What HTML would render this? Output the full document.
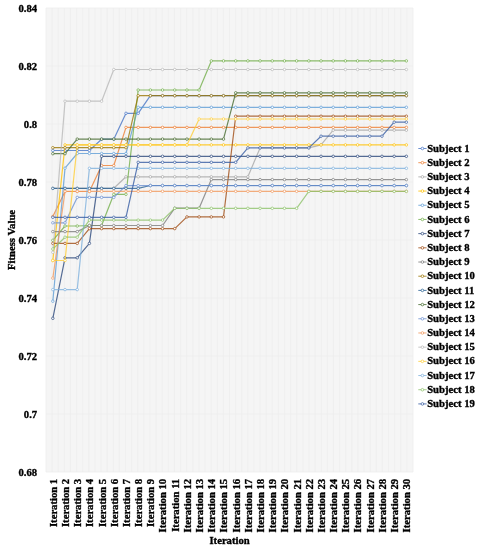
<!DOCTYPE html>
<html><head><meta charset="utf-8"><title>Fitness Value by Iteration</title>
<style>
html,body{margin:0;padding:0;background:#fff;}
svg{display:block;}
text{font-family:"Liberation Serif","Times New Roman",serif;font-weight:bold;font-size:10.67px;fill:#000;stroke:#000;stroke-width:0.33px;}
</style></head>
<body>
<svg width="482" height="550" viewBox="0 0 482 550">
<rect width="482" height="550" fill="#fff"/>
<rect x="46.0" y="8.0" width="367.0" height="464.0" fill="#f5f5f5"/>
<path d="M46.00 8.0V472.0M52.12 8.0V472.0M58.23 8.0V472.0M64.35 8.0V472.0M70.47 8.0V472.0M76.58 8.0V472.0M82.70 8.0V472.0M88.82 8.0V472.0M94.93 8.0V472.0M101.05 8.0V472.0M107.17 8.0V472.0M113.28 8.0V472.0M119.40 8.0V472.0M125.52 8.0V472.0M131.63 8.0V472.0M137.75 8.0V472.0M143.87 8.0V472.0M149.98 8.0V472.0M156.10 8.0V472.0M162.22 8.0V472.0M168.33 8.0V472.0M174.45 8.0V472.0M180.57 8.0V472.0M186.68 8.0V472.0M192.80 8.0V472.0M198.92 8.0V472.0M205.03 8.0V472.0M211.15 8.0V472.0M217.27 8.0V472.0M223.38 8.0V472.0M229.50 8.0V472.0M235.62 8.0V472.0M241.73 8.0V472.0M247.85 8.0V472.0M253.97 8.0V472.0M260.08 8.0V472.0M266.20 8.0V472.0M272.32 8.0V472.0M278.43 8.0V472.0M284.55 8.0V472.0M290.67 8.0V472.0M296.78 8.0V472.0M302.90 8.0V472.0M309.02 8.0V472.0M315.13 8.0V472.0M321.25 8.0V472.0M327.37 8.0V472.0M333.48 8.0V472.0M339.60 8.0V472.0M345.72 8.0V472.0M351.83 8.0V472.0M357.95 8.0V472.0M364.07 8.0V472.0M370.18 8.0V472.0M376.30 8.0V472.0M382.42 8.0V472.0M388.53 8.0V472.0M394.65 8.0V472.0M400.77 8.0V472.0M406.88 8.0V472.0M413.00 8.0V472.0" stroke="#ededed" stroke-width="0.8" fill="none"/>
<path d="M46.0 8.00H413.0M46.0 66.00H413.0M46.0 124.00H413.0M46.0 182.00H413.0M46.0 240.00H413.0M46.0 298.00H413.0M46.0 356.00H413.0M46.0 414.00H413.0M46.0 472.00H413.0" stroke="#ededed" stroke-width="0.8" fill="none"/>
<g>
<polyline points="52.84,150.5 65.03,150.5 77.22,150.5 89.41,150.5 101.60,139.2 113.80,139.2 125.98,113.3 138.18,113.3 150.37,95.7 162.56,95.7 174.75,95.7 186.94,95.7 199.12,95.7 211.31,95.7 223.50,95.7 235.69,95.7 247.88,95.7 260.07,95.7 272.26,95.7 284.45,95.7 296.64,95.7 308.83,95.7 321.02,95.7 333.21,95.7 345.40,95.7 357.59,95.7 369.78,95.7 381.97,95.7 394.16,95.7 406.35,95.7" fill="none" stroke="#4472C4" stroke-width="1.2" stroke-opacity="0.78" stroke-linejoin="round"/>
<g fill="#fff" stroke="#4472C4" stroke-width="0.7"><circle cx="52.84" cy="150.5" r="1.25"/><circle cx="65.03" cy="150.5" r="1.25"/><circle cx="77.22" cy="150.5" r="1.25"/><circle cx="89.41" cy="150.5" r="1.25"/><circle cx="101.60" cy="139.2" r="1.25"/><circle cx="113.80" cy="139.2" r="1.25"/><circle cx="125.98" cy="113.3" r="1.25"/><circle cx="138.18" cy="113.3" r="1.25"/><circle cx="150.37" cy="95.7" r="1.25"/><circle cx="162.56" cy="95.7" r="1.25"/><circle cx="174.75" cy="95.7" r="1.25"/><circle cx="186.94" cy="95.7" r="1.25"/><circle cx="199.12" cy="95.7" r="1.25"/><circle cx="211.31" cy="95.7" r="1.25"/><circle cx="223.50" cy="95.7" r="1.25"/><circle cx="235.69" cy="95.7" r="1.25"/><circle cx="247.88" cy="95.7" r="1.25"/><circle cx="260.07" cy="95.7" r="1.25"/><circle cx="272.26" cy="95.7" r="1.25"/><circle cx="284.45" cy="95.7" r="1.25"/><circle cx="296.64" cy="95.7" r="1.25"/><circle cx="308.83" cy="95.7" r="1.25"/><circle cx="321.02" cy="95.7" r="1.25"/><circle cx="333.21" cy="95.7" r="1.25"/><circle cx="345.40" cy="95.7" r="1.25"/><circle cx="357.59" cy="95.7" r="1.25"/><circle cx="369.78" cy="95.7" r="1.25"/><circle cx="381.97" cy="95.7" r="1.25"/><circle cx="394.16" cy="95.7" r="1.25"/><circle cx="406.35" cy="95.7" r="1.25"/></g>
<polyline points="52.84,216.5 65.03,191.5 77.22,191.5 89.41,191.5 101.60,165.5 113.80,165.5 125.98,127.4 138.18,127.4 150.37,127.4 162.56,127.4 174.75,127.4 186.94,127.4 199.12,127.4 211.31,127.4 223.50,127.4 235.69,127.4 247.88,127.4 260.07,127.4 272.26,127.4 284.45,127.4 296.64,127.4 308.83,127.4 321.02,127.4 333.21,127.4 345.40,127.4 357.59,127.4 369.78,127.4 381.97,127.4 394.16,127.4 406.35,127.4" fill="none" stroke="#ED7D31" stroke-width="1.2" stroke-opacity="0.78" stroke-linejoin="round"/>
<g fill="#fff" stroke="#ED7D31" stroke-width="0.7"><circle cx="52.84" cy="216.5" r="1.25"/><circle cx="65.03" cy="191.5" r="1.25"/><circle cx="77.22" cy="191.5" r="1.25"/><circle cx="89.41" cy="191.5" r="1.25"/><circle cx="101.60" cy="165.5" r="1.25"/><circle cx="113.80" cy="165.5" r="1.25"/><circle cx="125.98" cy="127.4" r="1.25"/><circle cx="138.18" cy="127.4" r="1.25"/><circle cx="150.37" cy="127.4" r="1.25"/><circle cx="162.56" cy="127.4" r="1.25"/><circle cx="174.75" cy="127.4" r="1.25"/><circle cx="186.94" cy="127.4" r="1.25"/><circle cx="199.12" cy="127.4" r="1.25"/><circle cx="211.31" cy="127.4" r="1.25"/><circle cx="223.50" cy="127.4" r="1.25"/><circle cx="235.69" cy="127.4" r="1.25"/><circle cx="247.88" cy="127.4" r="1.25"/><circle cx="260.07" cy="127.4" r="1.25"/><circle cx="272.26" cy="127.4" r="1.25"/><circle cx="284.45" cy="127.4" r="1.25"/><circle cx="296.64" cy="127.4" r="1.25"/><circle cx="308.83" cy="127.4" r="1.25"/><circle cx="321.02" cy="127.4" r="1.25"/><circle cx="333.21" cy="127.4" r="1.25"/><circle cx="345.40" cy="127.4" r="1.25"/><circle cx="357.59" cy="127.4" r="1.25"/><circle cx="369.78" cy="127.4" r="1.25"/><circle cx="381.97" cy="127.4" r="1.25"/><circle cx="394.16" cy="127.4" r="1.25"/><circle cx="406.35" cy="127.4" r="1.25"/></g>
<polyline points="52.84,188.3 65.03,188.3 77.22,188.3 89.41,188.3 101.60,188.3 113.80,188.3 125.98,176.8 138.18,176.8 150.37,176.8 162.56,176.8 174.75,176.8 186.94,176.8 199.12,176.8 211.31,176.8 223.50,176.8 235.69,176.8 247.88,176.8 260.07,147.9 272.26,147.9 284.45,147.9 296.64,147.9 308.83,147.9 321.02,144.8 333.21,130.2 345.40,130.2 357.59,130.2 369.78,130.2 381.97,130.2 394.16,130.2 406.35,130.2" fill="none" stroke="#A5A5A5" stroke-width="1.2" stroke-opacity="0.78" stroke-linejoin="round"/>
<g fill="#fff" stroke="#A5A5A5" stroke-width="0.7"><circle cx="52.84" cy="188.3" r="1.25"/><circle cx="65.03" cy="188.3" r="1.25"/><circle cx="77.22" cy="188.3" r="1.25"/><circle cx="89.41" cy="188.3" r="1.25"/><circle cx="101.60" cy="188.3" r="1.25"/><circle cx="113.80" cy="188.3" r="1.25"/><circle cx="125.98" cy="176.8" r="1.25"/><circle cx="138.18" cy="176.8" r="1.25"/><circle cx="150.37" cy="176.8" r="1.25"/><circle cx="162.56" cy="176.8" r="1.25"/><circle cx="174.75" cy="176.8" r="1.25"/><circle cx="186.94" cy="176.8" r="1.25"/><circle cx="199.12" cy="176.8" r="1.25"/><circle cx="211.31" cy="176.8" r="1.25"/><circle cx="223.50" cy="176.8" r="1.25"/><circle cx="235.69" cy="176.8" r="1.25"/><circle cx="247.88" cy="176.8" r="1.25"/><circle cx="260.07" cy="147.9" r="1.25"/><circle cx="272.26" cy="147.9" r="1.25"/><circle cx="284.45" cy="147.9" r="1.25"/><circle cx="296.64" cy="147.9" r="1.25"/><circle cx="308.83" cy="147.9" r="1.25"/><circle cx="321.02" cy="144.8" r="1.25"/><circle cx="333.21" cy="130.2" r="1.25"/><circle cx="345.40" cy="130.2" r="1.25"/><circle cx="357.59" cy="130.2" r="1.25"/><circle cx="369.78" cy="130.2" r="1.25"/><circle cx="381.97" cy="130.2" r="1.25"/><circle cx="394.16" cy="130.2" r="1.25"/><circle cx="406.35" cy="130.2" r="1.25"/></g>
<polyline points="52.84,260.5 65.03,144.9 77.22,144.9 89.41,144.9 101.60,144.9 113.80,144.9 125.98,144.9 138.18,144.9 150.37,144.9 162.56,144.9 174.75,144.9 186.94,144.9 199.12,144.9 211.31,144.9 223.50,144.9 235.69,144.9 247.88,144.9 260.07,144.9 272.26,144.9 284.45,144.9 296.64,144.9 308.83,144.9 321.02,144.9 333.21,144.9 345.40,144.9 357.59,144.9 369.78,144.9 381.97,144.9 394.16,144.9 406.35,144.9" fill="none" stroke="#FFC000" stroke-width="1.2" stroke-opacity="0.78" stroke-linejoin="round"/>
<g fill="#fff" stroke="#FFC000" stroke-width="0.7"><circle cx="52.84" cy="260.5" r="1.25"/><circle cx="65.03" cy="144.9" r="1.25"/><circle cx="77.22" cy="144.9" r="1.25"/><circle cx="89.41" cy="144.9" r="1.25"/><circle cx="101.60" cy="144.9" r="1.25"/><circle cx="113.80" cy="144.9" r="1.25"/><circle cx="125.98" cy="144.9" r="1.25"/><circle cx="138.18" cy="144.9" r="1.25"/><circle cx="150.37" cy="144.9" r="1.25"/><circle cx="162.56" cy="144.9" r="1.25"/><circle cx="174.75" cy="144.9" r="1.25"/><circle cx="186.94" cy="144.9" r="1.25"/><circle cx="199.12" cy="144.9" r="1.25"/><circle cx="211.31" cy="144.9" r="1.25"/><circle cx="223.50" cy="144.9" r="1.25"/><circle cx="235.69" cy="144.9" r="1.25"/><circle cx="247.88" cy="144.9" r="1.25"/><circle cx="260.07" cy="144.9" r="1.25"/><circle cx="272.26" cy="144.9" r="1.25"/><circle cx="284.45" cy="144.9" r="1.25"/><circle cx="296.64" cy="144.9" r="1.25"/><circle cx="308.83" cy="144.9" r="1.25"/><circle cx="321.02" cy="144.9" r="1.25"/><circle cx="333.21" cy="144.9" r="1.25"/><circle cx="345.40" cy="144.9" r="1.25"/><circle cx="357.59" cy="144.9" r="1.25"/><circle cx="369.78" cy="144.9" r="1.25"/><circle cx="381.97" cy="144.9" r="1.25"/><circle cx="394.16" cy="144.9" r="1.25"/><circle cx="406.35" cy="144.9" r="1.25"/></g>
<polyline points="52.84,301.2 65.03,168.2 77.22,153.5 89.41,153.5 101.60,153.5 113.80,153.5 125.98,153.5 138.18,107.3 150.37,107.3 162.56,107.3 174.75,107.3 186.94,107.3 199.12,107.3 211.31,107.3 223.50,107.3 235.69,107.3 247.88,107.3 260.07,107.3 272.26,107.3 284.45,107.3 296.64,107.3 308.83,107.3 321.02,107.3 333.21,107.3 345.40,107.3 357.59,107.3 369.78,107.3 381.97,107.3 394.16,107.3 406.35,107.3" fill="none" stroke="#5B9BD5" stroke-width="1.2" stroke-opacity="0.78" stroke-linejoin="round"/>
<g fill="#fff" stroke="#5B9BD5" stroke-width="0.7"><circle cx="52.84" cy="301.2" r="1.25"/><circle cx="65.03" cy="168.2" r="1.25"/><circle cx="77.22" cy="153.5" r="1.25"/><circle cx="89.41" cy="153.5" r="1.25"/><circle cx="101.60" cy="153.5" r="1.25"/><circle cx="113.80" cy="153.5" r="1.25"/><circle cx="125.98" cy="153.5" r="1.25"/><circle cx="138.18" cy="107.3" r="1.25"/><circle cx="150.37" cy="107.3" r="1.25"/><circle cx="162.56" cy="107.3" r="1.25"/><circle cx="174.75" cy="107.3" r="1.25"/><circle cx="186.94" cy="107.3" r="1.25"/><circle cx="199.12" cy="107.3" r="1.25"/><circle cx="211.31" cy="107.3" r="1.25"/><circle cx="223.50" cy="107.3" r="1.25"/><circle cx="235.69" cy="107.3" r="1.25"/><circle cx="247.88" cy="107.3" r="1.25"/><circle cx="260.07" cy="107.3" r="1.25"/><circle cx="272.26" cy="107.3" r="1.25"/><circle cx="284.45" cy="107.3" r="1.25"/><circle cx="296.64" cy="107.3" r="1.25"/><circle cx="308.83" cy="107.3" r="1.25"/><circle cx="321.02" cy="107.3" r="1.25"/><circle cx="333.21" cy="107.3" r="1.25"/><circle cx="345.40" cy="107.3" r="1.25"/><circle cx="357.59" cy="107.3" r="1.25"/><circle cx="369.78" cy="107.3" r="1.25"/><circle cx="381.97" cy="107.3" r="1.25"/><circle cx="394.16" cy="107.3" r="1.25"/><circle cx="406.35" cy="107.3" r="1.25"/></g>
<polyline points="52.84,240.3 65.03,226.0 77.22,226.0 89.41,225.5 101.60,225.5 113.80,194.3 125.98,194.3 138.18,90.0 150.37,90.0 162.56,90.0 174.75,90.0 186.94,90.0 199.12,90.0 211.31,60.9 223.50,60.9 235.69,60.9 247.88,60.9 260.07,60.9 272.26,60.9 284.45,60.9 296.64,60.9 308.83,60.9 321.02,60.9 333.21,60.9 345.40,60.9 357.59,60.9 369.78,60.9 381.97,60.9 394.16,60.9 406.35,60.9" fill="none" stroke="#70AD47" stroke-width="1.2" stroke-opacity="0.78" stroke-linejoin="round"/>
<g fill="#fff" stroke="#70AD47" stroke-width="0.7"><circle cx="52.84" cy="240.3" r="1.25"/><circle cx="65.03" cy="226.0" r="1.25"/><circle cx="77.22" cy="226.0" r="1.25"/><circle cx="89.41" cy="225.5" r="1.25"/><circle cx="101.60" cy="225.5" r="1.25"/><circle cx="113.80" cy="194.3" r="1.25"/><circle cx="125.98" cy="194.3" r="1.25"/><circle cx="138.18" cy="90.0" r="1.25"/><circle cx="150.37" cy="90.0" r="1.25"/><circle cx="162.56" cy="90.0" r="1.25"/><circle cx="174.75" cy="90.0" r="1.25"/><circle cx="186.94" cy="90.0" r="1.25"/><circle cx="199.12" cy="90.0" r="1.25"/><circle cx="211.31" cy="60.9" r="1.25"/><circle cx="223.50" cy="60.9" r="1.25"/><circle cx="235.69" cy="60.9" r="1.25"/><circle cx="247.88" cy="60.9" r="1.25"/><circle cx="260.07" cy="60.9" r="1.25"/><circle cx="272.26" cy="60.9" r="1.25"/><circle cx="284.45" cy="60.9" r="1.25"/><circle cx="296.64" cy="60.9" r="1.25"/><circle cx="308.83" cy="60.9" r="1.25"/><circle cx="321.02" cy="60.9" r="1.25"/><circle cx="333.21" cy="60.9" r="1.25"/><circle cx="345.40" cy="60.9" r="1.25"/><circle cx="357.59" cy="60.9" r="1.25"/><circle cx="369.78" cy="60.9" r="1.25"/><circle cx="381.97" cy="60.9" r="1.25"/><circle cx="394.16" cy="60.9" r="1.25"/><circle cx="406.35" cy="60.9" r="1.25"/></g>
<polyline points="52.84,318.3 65.03,257.8 77.22,257.8 89.41,243.4 101.60,156.3 113.80,156.3 125.98,156.3 138.18,156.3 150.37,156.3 162.56,156.3 174.75,156.3 186.94,156.3 199.12,156.3 211.31,156.3 223.50,156.3 235.69,156.3 247.88,156.3 260.07,156.3 272.26,156.3 284.45,156.3 296.64,156.3 308.83,156.3 321.02,156.3 333.21,156.3 345.40,156.3 357.59,156.3 369.78,156.3 381.97,156.3 394.16,156.3 406.35,156.3" fill="none" stroke="#264478" stroke-width="1.2" stroke-opacity="0.78" stroke-linejoin="round"/>
<g fill="#fff" stroke="#264478" stroke-width="0.7"><circle cx="52.84" cy="318.3" r="1.25"/><circle cx="65.03" cy="257.8" r="1.25"/><circle cx="77.22" cy="257.8" r="1.25"/><circle cx="89.41" cy="243.4" r="1.25"/><circle cx="101.60" cy="156.3" r="1.25"/><circle cx="113.80" cy="156.3" r="1.25"/><circle cx="125.98" cy="156.3" r="1.25"/><circle cx="138.18" cy="156.3" r="1.25"/><circle cx="150.37" cy="156.3" r="1.25"/><circle cx="162.56" cy="156.3" r="1.25"/><circle cx="174.75" cy="156.3" r="1.25"/><circle cx="186.94" cy="156.3" r="1.25"/><circle cx="199.12" cy="156.3" r="1.25"/><circle cx="211.31" cy="156.3" r="1.25"/><circle cx="223.50" cy="156.3" r="1.25"/><circle cx="235.69" cy="156.3" r="1.25"/><circle cx="247.88" cy="156.3" r="1.25"/><circle cx="260.07" cy="156.3" r="1.25"/><circle cx="272.26" cy="156.3" r="1.25"/><circle cx="284.45" cy="156.3" r="1.25"/><circle cx="296.64" cy="156.3" r="1.25"/><circle cx="308.83" cy="156.3" r="1.25"/><circle cx="321.02" cy="156.3" r="1.25"/><circle cx="333.21" cy="156.3" r="1.25"/><circle cx="345.40" cy="156.3" r="1.25"/><circle cx="357.59" cy="156.3" r="1.25"/><circle cx="369.78" cy="156.3" r="1.25"/><circle cx="381.97" cy="156.3" r="1.25"/><circle cx="394.16" cy="156.3" r="1.25"/><circle cx="406.35" cy="156.3" r="1.25"/></g>
<polyline points="52.84,243.4 65.03,243.4 77.22,243.4 89.41,228.6 101.60,228.6 113.80,228.6 125.98,228.6 138.18,228.6 150.37,228.6 162.56,228.6 174.75,228.6 186.94,216.9 199.12,216.9 211.31,216.9 223.50,216.9 235.69,116.2 247.88,116.2 260.07,116.2 272.26,116.2 284.45,116.2 296.64,116.2 308.83,116.2 321.02,116.2 333.21,116.2 345.40,116.2 357.59,116.2 369.78,116.2 381.97,116.2 394.16,116.2 406.35,116.2" fill="none" stroke="#9E480E" stroke-width="1.2" stroke-opacity="0.78" stroke-linejoin="round"/>
<g fill="#fff" stroke="#9E480E" stroke-width="0.7"><circle cx="52.84" cy="243.4" r="1.25"/><circle cx="65.03" cy="243.4" r="1.25"/><circle cx="77.22" cy="243.4" r="1.25"/><circle cx="89.41" cy="228.6" r="1.25"/><circle cx="101.60" cy="228.6" r="1.25"/><circle cx="113.80" cy="228.6" r="1.25"/><circle cx="125.98" cy="228.6" r="1.25"/><circle cx="138.18" cy="228.6" r="1.25"/><circle cx="150.37" cy="228.6" r="1.25"/><circle cx="162.56" cy="228.6" r="1.25"/><circle cx="174.75" cy="228.6" r="1.25"/><circle cx="186.94" cy="216.9" r="1.25"/><circle cx="199.12" cy="216.9" r="1.25"/><circle cx="211.31" cy="216.9" r="1.25"/><circle cx="223.50" cy="216.9" r="1.25"/><circle cx="235.69" cy="116.2" r="1.25"/><circle cx="247.88" cy="116.2" r="1.25"/><circle cx="260.07" cy="116.2" r="1.25"/><circle cx="272.26" cy="116.2" r="1.25"/><circle cx="284.45" cy="116.2" r="1.25"/><circle cx="296.64" cy="116.2" r="1.25"/><circle cx="308.83" cy="116.2" r="1.25"/><circle cx="321.02" cy="116.2" r="1.25"/><circle cx="333.21" cy="116.2" r="1.25"/><circle cx="345.40" cy="116.2" r="1.25"/><circle cx="357.59" cy="116.2" r="1.25"/><circle cx="369.78" cy="116.2" r="1.25"/><circle cx="381.97" cy="116.2" r="1.25"/><circle cx="394.16" cy="116.2" r="1.25"/><circle cx="406.35" cy="116.2" r="1.25"/></g>
<polyline points="52.84,231.6 65.03,231.6 77.22,231.6 89.41,225.5 101.60,225.5 113.80,225.5 125.98,225.5 138.18,225.5 150.37,225.5 162.56,225.5 174.75,208.2 186.94,208.2 199.12,208.2 211.31,179.6 223.50,179.6 235.69,179.6 247.88,179.6 260.07,179.6 272.26,179.6 284.45,179.6 296.64,179.6 308.83,179.6 321.02,179.6 333.21,179.6 345.40,179.6 357.59,179.6 369.78,179.6 381.97,179.6 394.16,179.6 406.35,179.6" fill="none" stroke="#7a7a7a" stroke-width="1.2" stroke-opacity="0.78" stroke-linejoin="round"/>
<g fill="#fff" stroke="#7a7a7a" stroke-width="0.7"><circle cx="52.84" cy="231.6" r="1.25"/><circle cx="65.03" cy="231.6" r="1.25"/><circle cx="77.22" cy="231.6" r="1.25"/><circle cx="89.41" cy="225.5" r="1.25"/><circle cx="101.60" cy="225.5" r="1.25"/><circle cx="113.80" cy="225.5" r="1.25"/><circle cx="125.98" cy="225.5" r="1.25"/><circle cx="138.18" cy="225.5" r="1.25"/><circle cx="150.37" cy="225.5" r="1.25"/><circle cx="162.56" cy="225.5" r="1.25"/><circle cx="174.75" cy="208.2" r="1.25"/><circle cx="186.94" cy="208.2" r="1.25"/><circle cx="199.12" cy="208.2" r="1.25"/><circle cx="211.31" cy="179.6" r="1.25"/><circle cx="223.50" cy="179.6" r="1.25"/><circle cx="235.69" cy="179.6" r="1.25"/><circle cx="247.88" cy="179.6" r="1.25"/><circle cx="260.07" cy="179.6" r="1.25"/><circle cx="272.26" cy="179.6" r="1.25"/><circle cx="284.45" cy="179.6" r="1.25"/><circle cx="296.64" cy="179.6" r="1.25"/><circle cx="308.83" cy="179.6" r="1.25"/><circle cx="321.02" cy="179.6" r="1.25"/><circle cx="333.21" cy="179.6" r="1.25"/><circle cx="345.40" cy="179.6" r="1.25"/><circle cx="357.59" cy="179.6" r="1.25"/><circle cx="369.78" cy="179.6" r="1.25"/><circle cx="381.97" cy="179.6" r="1.25"/><circle cx="394.16" cy="179.6" r="1.25"/><circle cx="406.35" cy="179.6" r="1.25"/></g>
<polyline points="52.84,147.7 65.03,147.7 77.22,147.7 89.41,147.7 101.60,147.7 113.80,147.7 125.98,147.7 138.18,95.7 150.37,95.7 162.56,95.7 174.75,95.7 186.94,95.7 199.12,95.7 211.31,95.7 223.50,95.7 235.69,95.7 247.88,95.7 260.07,95.7 272.26,95.7 284.45,95.7 296.64,95.7 308.83,95.7 321.02,95.7 333.21,95.7 345.40,95.7 357.59,95.7 369.78,95.7 381.97,95.7 394.16,95.7 406.35,95.7" fill="none" stroke="#997300" stroke-width="1.2" stroke-opacity="0.78" stroke-linejoin="round"/>
<g fill="#fff" stroke="#997300" stroke-width="0.7"><circle cx="52.84" cy="147.7" r="1.25"/><circle cx="65.03" cy="147.7" r="1.25"/><circle cx="77.22" cy="147.7" r="1.25"/><circle cx="89.41" cy="147.7" r="1.25"/><circle cx="101.60" cy="147.7" r="1.25"/><circle cx="113.80" cy="147.7" r="1.25"/><circle cx="125.98" cy="147.7" r="1.25"/><circle cx="138.18" cy="95.7" r="1.25"/><circle cx="150.37" cy="95.7" r="1.25"/><circle cx="162.56" cy="95.7" r="1.25"/><circle cx="174.75" cy="95.7" r="1.25"/><circle cx="186.94" cy="95.7" r="1.25"/><circle cx="199.12" cy="95.7" r="1.25"/><circle cx="211.31" cy="95.7" r="1.25"/><circle cx="223.50" cy="95.7" r="1.25"/><circle cx="235.69" cy="95.7" r="1.25"/><circle cx="247.88" cy="95.7" r="1.25"/><circle cx="260.07" cy="95.7" r="1.25"/><circle cx="272.26" cy="95.7" r="1.25"/><circle cx="284.45" cy="95.7" r="1.25"/><circle cx="296.64" cy="95.7" r="1.25"/><circle cx="308.83" cy="95.7" r="1.25"/><circle cx="321.02" cy="95.7" r="1.25"/><circle cx="333.21" cy="95.7" r="1.25"/><circle cx="345.40" cy="95.7" r="1.25"/><circle cx="357.59" cy="95.7" r="1.25"/><circle cx="369.78" cy="95.7" r="1.25"/><circle cx="381.97" cy="95.7" r="1.25"/><circle cx="394.16" cy="95.7" r="1.25"/><circle cx="406.35" cy="95.7" r="1.25"/></g>
<polyline points="52.84,188.4 65.03,188.4 77.22,188.4 89.41,188.4 101.60,188.4 113.80,188.4 125.98,188.4 138.18,188.4 150.37,185.5 162.56,185.5 174.75,185.5 186.94,185.5 199.12,185.5 211.31,185.5 223.50,185.5 235.69,185.5 247.88,185.5 260.07,185.5 272.26,185.5 284.45,185.5 296.64,185.5 308.83,185.5 321.02,185.5 333.21,185.5 345.40,185.5 357.59,185.5 369.78,185.5 381.97,185.5 394.16,185.5 406.35,185.5" fill="none" stroke="#255E91" stroke-width="1.2" stroke-opacity="0.78" stroke-linejoin="round"/>
<g fill="#fff" stroke="#255E91" stroke-width="0.7"><circle cx="52.84" cy="188.4" r="1.25"/><circle cx="65.03" cy="188.4" r="1.25"/><circle cx="77.22" cy="188.4" r="1.25"/><circle cx="89.41" cy="188.4" r="1.25"/><circle cx="101.60" cy="188.4" r="1.25"/><circle cx="113.80" cy="188.4" r="1.25"/><circle cx="125.98" cy="188.4" r="1.25"/><circle cx="138.18" cy="188.4" r="1.25"/><circle cx="150.37" cy="185.5" r="1.25"/><circle cx="162.56" cy="185.5" r="1.25"/><circle cx="174.75" cy="185.5" r="1.25"/><circle cx="186.94" cy="185.5" r="1.25"/><circle cx="199.12" cy="185.5" r="1.25"/><circle cx="211.31" cy="185.5" r="1.25"/><circle cx="223.50" cy="185.5" r="1.25"/><circle cx="235.69" cy="185.5" r="1.25"/><circle cx="247.88" cy="185.5" r="1.25"/><circle cx="260.07" cy="185.5" r="1.25"/><circle cx="272.26" cy="185.5" r="1.25"/><circle cx="284.45" cy="185.5" r="1.25"/><circle cx="296.64" cy="185.5" r="1.25"/><circle cx="308.83" cy="185.5" r="1.25"/><circle cx="321.02" cy="185.5" r="1.25"/><circle cx="333.21" cy="185.5" r="1.25"/><circle cx="345.40" cy="185.5" r="1.25"/><circle cx="357.59" cy="185.5" r="1.25"/><circle cx="369.78" cy="185.5" r="1.25"/><circle cx="381.97" cy="185.5" r="1.25"/><circle cx="394.16" cy="185.5" r="1.25"/><circle cx="406.35" cy="185.5" r="1.25"/></g>
<polyline points="52.84,153.7 65.03,153.7 77.22,139.1 89.41,139.1 101.60,139.1 113.80,139.1 125.98,139.1 138.18,139.1 150.37,139.1 162.56,139.1 174.75,139.1 186.94,139.1 199.12,139.1 211.31,139.1 223.50,139.1 235.69,92.8 247.88,92.8 260.07,92.8 272.26,92.8 284.45,92.8 296.64,92.8 308.83,92.8 321.02,92.8 333.21,92.8 345.40,92.8 357.59,92.8 369.78,92.8 381.97,92.8 394.16,92.8 406.35,92.8" fill="none" stroke="#43682B" stroke-width="1.2" stroke-opacity="0.78" stroke-linejoin="round"/>
<g fill="#fff" stroke="#43682B" stroke-width="0.7"><circle cx="52.84" cy="153.7" r="1.25"/><circle cx="65.03" cy="153.7" r="1.25"/><circle cx="77.22" cy="139.1" r="1.25"/><circle cx="89.41" cy="139.1" r="1.25"/><circle cx="101.60" cy="139.1" r="1.25"/><circle cx="113.80" cy="139.1" r="1.25"/><circle cx="125.98" cy="139.1" r="1.25"/><circle cx="138.18" cy="139.1" r="1.25"/><circle cx="150.37" cy="139.1" r="1.25"/><circle cx="162.56" cy="139.1" r="1.25"/><circle cx="174.75" cy="139.1" r="1.25"/><circle cx="186.94" cy="139.1" r="1.25"/><circle cx="199.12" cy="139.1" r="1.25"/><circle cx="211.31" cy="139.1" r="1.25"/><circle cx="223.50" cy="139.1" r="1.25"/><circle cx="235.69" cy="92.8" r="1.25"/><circle cx="247.88" cy="92.8" r="1.25"/><circle cx="260.07" cy="92.8" r="1.25"/><circle cx="272.26" cy="92.8" r="1.25"/><circle cx="284.45" cy="92.8" r="1.25"/><circle cx="296.64" cy="92.8" r="1.25"/><circle cx="308.83" cy="92.8" r="1.25"/><circle cx="321.02" cy="92.8" r="1.25"/><circle cx="333.21" cy="92.8" r="1.25"/><circle cx="345.40" cy="92.8" r="1.25"/><circle cx="357.59" cy="92.8" r="1.25"/><circle cx="369.78" cy="92.8" r="1.25"/><circle cx="381.97" cy="92.8" r="1.25"/><circle cx="394.16" cy="92.8" r="1.25"/><circle cx="406.35" cy="92.8" r="1.25"/></g>
<polyline points="52.84,222.8 65.03,222.8 77.22,197.4 89.41,197.4 101.60,197.4 113.80,197.4 125.98,185.6 138.18,185.6 150.37,185.6 162.56,185.6 174.75,185.6 186.94,185.6 199.12,185.6 211.31,185.6 223.50,185.6 235.69,185.6 247.88,185.6 260.07,185.6 272.26,185.6 284.45,185.6 296.64,185.6 308.83,185.6 321.02,185.6 333.21,185.6 345.40,185.6 357.59,185.6 369.78,185.6 381.97,185.6 394.16,185.6 406.35,185.6" fill="none" stroke="#698ED0" stroke-width="1.2" stroke-opacity="0.78" stroke-linejoin="round"/>
<g fill="#fff" stroke="#698ED0" stroke-width="0.7"><circle cx="52.84" cy="222.8" r="1.25"/><circle cx="65.03" cy="222.8" r="1.25"/><circle cx="77.22" cy="197.4" r="1.25"/><circle cx="89.41" cy="197.4" r="1.25"/><circle cx="101.60" cy="197.4" r="1.25"/><circle cx="113.80" cy="197.4" r="1.25"/><circle cx="125.98" cy="185.6" r="1.25"/><circle cx="138.18" cy="185.6" r="1.25"/><circle cx="150.37" cy="185.6" r="1.25"/><circle cx="162.56" cy="185.6" r="1.25"/><circle cx="174.75" cy="185.6" r="1.25"/><circle cx="186.94" cy="185.6" r="1.25"/><circle cx="199.12" cy="185.6" r="1.25"/><circle cx="211.31" cy="185.6" r="1.25"/><circle cx="223.50" cy="185.6" r="1.25"/><circle cx="235.69" cy="185.6" r="1.25"/><circle cx="247.88" cy="185.6" r="1.25"/><circle cx="260.07" cy="185.6" r="1.25"/><circle cx="272.26" cy="185.6" r="1.25"/><circle cx="284.45" cy="185.6" r="1.25"/><circle cx="296.64" cy="185.6" r="1.25"/><circle cx="308.83" cy="185.6" r="1.25"/><circle cx="321.02" cy="185.6" r="1.25"/><circle cx="333.21" cy="185.6" r="1.25"/><circle cx="345.40" cy="185.6" r="1.25"/><circle cx="357.59" cy="185.6" r="1.25"/><circle cx="369.78" cy="185.6" r="1.25"/><circle cx="381.97" cy="185.6" r="1.25"/><circle cx="394.16" cy="185.6" r="1.25"/><circle cx="406.35" cy="185.6" r="1.25"/></g>
<polyline points="52.84,278.1 65.03,191.3 77.22,191.3 89.41,191.3 101.60,191.3 113.80,191.3 125.98,191.3 138.18,191.3 150.37,191.3 162.56,191.3 174.75,191.3 186.94,191.3 199.12,191.3 211.31,191.3 223.50,191.3 235.69,191.3 247.88,191.3 260.07,191.3 272.26,191.3 284.45,191.3 296.64,191.3 308.83,191.3 321.02,191.3 333.21,191.3 345.40,191.3 357.59,191.3 369.78,191.3 381.97,191.3 394.16,191.3 406.35,191.3" fill="none" stroke="#F1975A" stroke-width="1.2" stroke-opacity="0.78" stroke-linejoin="round"/>
<g fill="#fff" stroke="#F1975A" stroke-width="0.7"><circle cx="52.84" cy="278.1" r="1.25"/><circle cx="65.03" cy="191.3" r="1.25"/><circle cx="77.22" cy="191.3" r="1.25"/><circle cx="89.41" cy="191.3" r="1.25"/><circle cx="101.60" cy="191.3" r="1.25"/><circle cx="113.80" cy="191.3" r="1.25"/><circle cx="125.98" cy="191.3" r="1.25"/><circle cx="138.18" cy="191.3" r="1.25"/><circle cx="150.37" cy="191.3" r="1.25"/><circle cx="162.56" cy="191.3" r="1.25"/><circle cx="174.75" cy="191.3" r="1.25"/><circle cx="186.94" cy="191.3" r="1.25"/><circle cx="199.12" cy="191.3" r="1.25"/><circle cx="211.31" cy="191.3" r="1.25"/><circle cx="223.50" cy="191.3" r="1.25"/><circle cx="235.69" cy="191.3" r="1.25"/><circle cx="247.88" cy="191.3" r="1.25"/><circle cx="260.07" cy="191.3" r="1.25"/><circle cx="272.26" cy="191.3" r="1.25"/><circle cx="284.45" cy="191.3" r="1.25"/><circle cx="296.64" cy="191.3" r="1.25"/><circle cx="308.83" cy="191.3" r="1.25"/><circle cx="321.02" cy="191.3" r="1.25"/><circle cx="333.21" cy="191.3" r="1.25"/><circle cx="345.40" cy="191.3" r="1.25"/><circle cx="357.59" cy="191.3" r="1.25"/><circle cx="369.78" cy="191.3" r="1.25"/><circle cx="381.97" cy="191.3" r="1.25"/><circle cx="394.16" cy="191.3" r="1.25"/><circle cx="406.35" cy="191.3" r="1.25"/></g>
<polyline points="52.84,252.3 65.03,101.2 77.22,101.2 89.41,101.2 101.60,101.2 113.80,69.5 125.98,69.5 138.18,69.5 150.37,69.5 162.56,69.5 174.75,69.5 186.94,69.5 199.12,69.5 211.31,69.5 223.50,69.5 235.69,69.5 247.88,69.5 260.07,69.5 272.26,69.5 284.45,69.5 296.64,69.5 308.83,69.5 321.02,69.5 333.21,69.5 345.40,69.5 357.59,69.5 369.78,69.5 381.97,69.5 394.16,69.5 406.35,69.5" fill="none" stroke="#B7B7B7" stroke-width="1.2" stroke-opacity="0.78" stroke-linejoin="round"/>
<g fill="#fff" stroke="#B7B7B7" stroke-width="0.7"><circle cx="52.84" cy="252.3" r="1.25"/><circle cx="65.03" cy="101.2" r="1.25"/><circle cx="77.22" cy="101.2" r="1.25"/><circle cx="89.41" cy="101.2" r="1.25"/><circle cx="101.60" cy="101.2" r="1.25"/><circle cx="113.80" cy="69.5" r="1.25"/><circle cx="125.98" cy="69.5" r="1.25"/><circle cx="138.18" cy="69.5" r="1.25"/><circle cx="150.37" cy="69.5" r="1.25"/><circle cx="162.56" cy="69.5" r="1.25"/><circle cx="174.75" cy="69.5" r="1.25"/><circle cx="186.94" cy="69.5" r="1.25"/><circle cx="199.12" cy="69.5" r="1.25"/><circle cx="211.31" cy="69.5" r="1.25"/><circle cx="223.50" cy="69.5" r="1.25"/><circle cx="235.69" cy="69.5" r="1.25"/><circle cx="247.88" cy="69.5" r="1.25"/><circle cx="260.07" cy="69.5" r="1.25"/><circle cx="272.26" cy="69.5" r="1.25"/><circle cx="284.45" cy="69.5" r="1.25"/><circle cx="296.64" cy="69.5" r="1.25"/><circle cx="308.83" cy="69.5" r="1.25"/><circle cx="321.02" cy="69.5" r="1.25"/><circle cx="333.21" cy="69.5" r="1.25"/><circle cx="345.40" cy="69.5" r="1.25"/><circle cx="357.59" cy="69.5" r="1.25"/><circle cx="369.78" cy="69.5" r="1.25"/><circle cx="381.97" cy="69.5" r="1.25"/><circle cx="394.16" cy="69.5" r="1.25"/><circle cx="406.35" cy="69.5" r="1.25"/></g>
<polyline points="52.84,260.5 65.03,260.5 77.22,144.9 89.41,144.9 101.60,144.9 113.80,144.9 125.98,144.9 138.18,144.9 150.37,144.9 162.56,144.9 174.75,144.9 186.94,144.9 199.12,119.0 211.31,119.0 223.50,119.0 235.69,119.0 247.88,119.0 260.07,119.0 272.26,119.0 284.45,119.0 296.64,119.0 308.83,119.0 321.02,119.0 333.21,119.0 345.40,119.0 357.59,119.0 369.78,119.0 381.97,119.0 394.16,119.0 406.35,119.0" fill="none" stroke="#FFCD33" stroke-width="1.2" stroke-opacity="0.78" stroke-linejoin="round"/>
<g fill="#fff" stroke="#FFCD33" stroke-width="0.7"><circle cx="52.84" cy="260.5" r="1.25"/><circle cx="65.03" cy="260.5" r="1.25"/><circle cx="77.22" cy="144.9" r="1.25"/><circle cx="89.41" cy="144.9" r="1.25"/><circle cx="101.60" cy="144.9" r="1.25"/><circle cx="113.80" cy="144.9" r="1.25"/><circle cx="125.98" cy="144.9" r="1.25"/><circle cx="138.18" cy="144.9" r="1.25"/><circle cx="150.37" cy="144.9" r="1.25"/><circle cx="162.56" cy="144.9" r="1.25"/><circle cx="174.75" cy="144.9" r="1.25"/><circle cx="186.94" cy="144.9" r="1.25"/><circle cx="199.12" cy="119.0" r="1.25"/><circle cx="211.31" cy="119.0" r="1.25"/><circle cx="223.50" cy="119.0" r="1.25"/><circle cx="235.69" cy="119.0" r="1.25"/><circle cx="247.88" cy="119.0" r="1.25"/><circle cx="260.07" cy="119.0" r="1.25"/><circle cx="272.26" cy="119.0" r="1.25"/><circle cx="284.45" cy="119.0" r="1.25"/><circle cx="296.64" cy="119.0" r="1.25"/><circle cx="308.83" cy="119.0" r="1.25"/><circle cx="321.02" cy="119.0" r="1.25"/><circle cx="333.21" cy="119.0" r="1.25"/><circle cx="345.40" cy="119.0" r="1.25"/><circle cx="357.59" cy="119.0" r="1.25"/><circle cx="369.78" cy="119.0" r="1.25"/><circle cx="381.97" cy="119.0" r="1.25"/><circle cx="394.16" cy="119.0" r="1.25"/><circle cx="406.35" cy="119.0" r="1.25"/></g>
<polyline points="52.84,289.6 65.03,289.6 77.22,289.6 89.41,168.3 101.60,168.3 113.80,168.3 125.98,168.3 138.18,168.3 150.37,168.3 162.56,168.3 174.75,168.3 186.94,168.3 199.12,168.3 211.31,168.3 223.50,168.3 235.69,168.3 247.88,168.3 260.07,168.3 272.26,168.3 284.45,168.3 296.64,168.3 308.83,168.3 321.02,168.3 333.21,168.3 345.40,168.3 357.59,168.3 369.78,168.3 381.97,168.3 394.16,168.3 406.35,168.3" fill="none" stroke="#7CAFDD" stroke-width="1.2" stroke-opacity="0.78" stroke-linejoin="round"/>
<g fill="#fff" stroke="#7CAFDD" stroke-width="0.7"><circle cx="52.84" cy="289.6" r="1.25"/><circle cx="65.03" cy="289.6" r="1.25"/><circle cx="77.22" cy="289.6" r="1.25"/><circle cx="89.41" cy="168.3" r="1.25"/><circle cx="101.60" cy="168.3" r="1.25"/><circle cx="113.80" cy="168.3" r="1.25"/><circle cx="125.98" cy="168.3" r="1.25"/><circle cx="138.18" cy="168.3" r="1.25"/><circle cx="150.37" cy="168.3" r="1.25"/><circle cx="162.56" cy="168.3" r="1.25"/><circle cx="174.75" cy="168.3" r="1.25"/><circle cx="186.94" cy="168.3" r="1.25"/><circle cx="199.12" cy="168.3" r="1.25"/><circle cx="211.31" cy="168.3" r="1.25"/><circle cx="223.50" cy="168.3" r="1.25"/><circle cx="235.69" cy="168.3" r="1.25"/><circle cx="247.88" cy="168.3" r="1.25"/><circle cx="260.07" cy="168.3" r="1.25"/><circle cx="272.26" cy="168.3" r="1.25"/><circle cx="284.45" cy="168.3" r="1.25"/><circle cx="296.64" cy="168.3" r="1.25"/><circle cx="308.83" cy="168.3" r="1.25"/><circle cx="321.02" cy="168.3" r="1.25"/><circle cx="333.21" cy="168.3" r="1.25"/><circle cx="345.40" cy="168.3" r="1.25"/><circle cx="357.59" cy="168.3" r="1.25"/><circle cx="369.78" cy="168.3" r="1.25"/><circle cx="381.97" cy="168.3" r="1.25"/><circle cx="394.16" cy="168.3" r="1.25"/><circle cx="406.35" cy="168.3" r="1.25"/></g>
<polyline points="52.84,249.0 65.03,237.2 77.22,237.2 89.41,220.1 101.60,220.1 113.80,220.1 125.98,220.1 138.18,220.1 150.37,220.1 162.56,220.1 174.75,208.3 186.94,208.3 199.12,208.3 211.31,208.3 223.50,208.3 235.69,208.3 247.88,208.3 260.07,208.3 272.26,208.3 284.45,208.3 296.64,208.3 308.83,191.4 321.02,191.4 333.21,191.4 345.40,191.4 357.59,191.4 369.78,191.4 381.97,191.4 394.16,191.4 406.35,191.4" fill="none" stroke="#8CC168" stroke-width="1.2" stroke-opacity="0.78" stroke-linejoin="round"/>
<g fill="#fff" stroke="#8CC168" stroke-width="0.7"><circle cx="52.84" cy="249.0" r="1.25"/><circle cx="65.03" cy="237.2" r="1.25"/><circle cx="77.22" cy="237.2" r="1.25"/><circle cx="89.41" cy="220.1" r="1.25"/><circle cx="101.60" cy="220.1" r="1.25"/><circle cx="113.80" cy="220.1" r="1.25"/><circle cx="125.98" cy="220.1" r="1.25"/><circle cx="138.18" cy="220.1" r="1.25"/><circle cx="150.37" cy="220.1" r="1.25"/><circle cx="162.56" cy="220.1" r="1.25"/><circle cx="174.75" cy="208.3" r="1.25"/><circle cx="186.94" cy="208.3" r="1.25"/><circle cx="199.12" cy="208.3" r="1.25"/><circle cx="211.31" cy="208.3" r="1.25"/><circle cx="223.50" cy="208.3" r="1.25"/><circle cx="235.69" cy="208.3" r="1.25"/><circle cx="247.88" cy="208.3" r="1.25"/><circle cx="260.07" cy="208.3" r="1.25"/><circle cx="272.26" cy="208.3" r="1.25"/><circle cx="284.45" cy="208.3" r="1.25"/><circle cx="296.64" cy="208.3" r="1.25"/><circle cx="308.83" cy="191.4" r="1.25"/><circle cx="321.02" cy="191.4" r="1.25"/><circle cx="333.21" cy="191.4" r="1.25"/><circle cx="345.40" cy="191.4" r="1.25"/><circle cx="357.59" cy="191.4" r="1.25"/><circle cx="369.78" cy="191.4" r="1.25"/><circle cx="381.97" cy="191.4" r="1.25"/><circle cx="394.16" cy="191.4" r="1.25"/><circle cx="406.35" cy="191.4" r="1.25"/></g>
<polyline points="52.84,217.3 65.03,217.3 77.22,217.3 89.41,217.3 101.60,217.3 113.80,217.3 125.98,217.3 138.18,162.3 150.37,162.3 162.56,162.3 174.75,162.3 186.94,162.3 199.12,162.3 211.31,162.3 223.50,162.3 235.69,162.3 247.88,147.9 260.07,147.9 272.26,147.9 284.45,147.9 296.64,147.9 308.83,147.9 321.02,136.2 333.21,136.2 345.40,136.2 357.59,136.2 369.78,136.2 381.97,136.2 394.16,122.2 406.35,122.2" fill="none" stroke="#335AA1" stroke-width="1.2" stroke-opacity="0.78" stroke-linejoin="round"/>
<g fill="#fff" stroke="#335AA1" stroke-width="0.7"><circle cx="52.84" cy="217.3" r="1.25"/><circle cx="65.03" cy="217.3" r="1.25"/><circle cx="77.22" cy="217.3" r="1.25"/><circle cx="89.41" cy="217.3" r="1.25"/><circle cx="101.60" cy="217.3" r="1.25"/><circle cx="113.80" cy="217.3" r="1.25"/><circle cx="125.98" cy="217.3" r="1.25"/><circle cx="138.18" cy="162.3" r="1.25"/><circle cx="150.37" cy="162.3" r="1.25"/><circle cx="162.56" cy="162.3" r="1.25"/><circle cx="174.75" cy="162.3" r="1.25"/><circle cx="186.94" cy="162.3" r="1.25"/><circle cx="199.12" cy="162.3" r="1.25"/><circle cx="211.31" cy="162.3" r="1.25"/><circle cx="223.50" cy="162.3" r="1.25"/><circle cx="235.69" cy="162.3" r="1.25"/><circle cx="247.88" cy="147.9" r="1.25"/><circle cx="260.07" cy="147.9" r="1.25"/><circle cx="272.26" cy="147.9" r="1.25"/><circle cx="284.45" cy="147.9" r="1.25"/><circle cx="296.64" cy="147.9" r="1.25"/><circle cx="308.83" cy="147.9" r="1.25"/><circle cx="321.02" cy="136.2" r="1.25"/><circle cx="333.21" cy="136.2" r="1.25"/><circle cx="345.40" cy="136.2" r="1.25"/><circle cx="357.59" cy="136.2" r="1.25"/><circle cx="369.78" cy="136.2" r="1.25"/><circle cx="381.97" cy="136.2" r="1.25"/><circle cx="394.16" cy="122.2" r="1.25"/><circle cx="406.35" cy="122.2" r="1.25"/></g>
</g>
<text x="37.2" y="11.6" text-anchor="end">0.84</text>
<text x="37.2" y="69.6" text-anchor="end">0.82</text>
<text x="37.2" y="127.6" text-anchor="end">0.8</text>
<text x="37.2" y="185.6" text-anchor="end">0.78</text>
<text x="37.2" y="243.6" text-anchor="end">0.76</text>
<text x="37.2" y="301.6" text-anchor="end">0.74</text>
<text x="37.2" y="359.6" text-anchor="end">0.72</text>
<text x="37.2" y="417.6" text-anchor="end">0.7</text>
<text x="37.2" y="475.6" text-anchor="end">0.68</text>
<text transform="translate(56.74,478.8) rotate(-90)" text-anchor="end">Iteration 1</text>
<text transform="translate(68.94,478.8) rotate(-90)" text-anchor="end">Iteration 2</text>
<text transform="translate(81.12,478.8) rotate(-90)" text-anchor="end">Iteration 3</text>
<text transform="translate(93.31,478.8) rotate(-90)" text-anchor="end">Iteration 4</text>
<text transform="translate(105.50,478.8) rotate(-90)" text-anchor="end">Iteration 5</text>
<text transform="translate(117.70,478.8) rotate(-90)" text-anchor="end">Iteration 6</text>
<text transform="translate(129.88,478.8) rotate(-90)" text-anchor="end">Iteration 7</text>
<text transform="translate(142.08,478.8) rotate(-90)" text-anchor="end">Iteration 8</text>
<text transform="translate(154.27,478.8) rotate(-90)" text-anchor="end">Iteration 9</text>
<text transform="translate(166.46,478.8) rotate(-90)" text-anchor="end">Iteration 10</text>
<text transform="translate(178.65,478.8) rotate(-90)" text-anchor="end">Iteration 11</text>
<text transform="translate(190.84,478.8) rotate(-90)" text-anchor="end">Iteration 12</text>
<text transform="translate(203.03,478.8) rotate(-90)" text-anchor="end">Iteration 13</text>
<text transform="translate(215.22,478.8) rotate(-90)" text-anchor="end">Iteration 14</text>
<text transform="translate(227.41,478.8) rotate(-90)" text-anchor="end">Iteration 15</text>
<text transform="translate(239.59,478.8) rotate(-90)" text-anchor="end">Iteration 16</text>
<text transform="translate(251.78,478.8) rotate(-90)" text-anchor="end">Iteration 17</text>
<text transform="translate(263.97,478.8) rotate(-90)" text-anchor="end">Iteration 18</text>
<text transform="translate(276.16,478.8) rotate(-90)" text-anchor="end">Iteration 19</text>
<text transform="translate(288.35,478.8) rotate(-90)" text-anchor="end">Iteration 20</text>
<text transform="translate(300.54,478.8) rotate(-90)" text-anchor="end">Iteration 21</text>
<text transform="translate(312.73,478.8) rotate(-90)" text-anchor="end">Iteration 22</text>
<text transform="translate(324.92,478.8) rotate(-90)" text-anchor="end">Iteration 23</text>
<text transform="translate(337.11,478.8) rotate(-90)" text-anchor="end">Iteration 24</text>
<text transform="translate(349.30,478.8) rotate(-90)" text-anchor="end">Iteration 25</text>
<text transform="translate(361.49,478.8) rotate(-90)" text-anchor="end">Iteration 26</text>
<text transform="translate(373.68,478.8) rotate(-90)" text-anchor="end">Iteration 27</text>
<text transform="translate(385.87,478.8) rotate(-90)" text-anchor="end">Iteration 28</text>
<text transform="translate(398.06,478.8) rotate(-90)" text-anchor="end">Iteration 29</text>
<text transform="translate(410.25,478.8) rotate(-90)" text-anchor="end">Iteration 30</text>
<text x="229.6" y="543.9" text-anchor="middle">Iteration</text>
<text transform="translate(15.0,240) rotate(-90)" text-anchor="middle">Fitness Value</text>
<line x1="418.3" y1="148.50" x2="426.6" y2="148.50" stroke="#4472C4" stroke-width="1.0" stroke-opacity="0.78"/>
<circle cx="422.4" cy="148.50" r="1.3" fill="#fff" stroke="#4472C4" stroke-width="0.7"/>
<text x="427.2" y="151.60">Subject 1</text>
<line x1="418.3" y1="162.69" x2="426.6" y2="162.69" stroke="#ED7D31" stroke-width="1.0" stroke-opacity="0.78"/>
<circle cx="422.4" cy="162.69" r="1.3" fill="#fff" stroke="#ED7D31" stroke-width="0.7"/>
<text x="427.2" y="165.79">Subject 2</text>
<line x1="418.3" y1="176.88" x2="426.6" y2="176.88" stroke="#A5A5A5" stroke-width="1.0" stroke-opacity="0.78"/>
<circle cx="422.4" cy="176.88" r="1.3" fill="#fff" stroke="#A5A5A5" stroke-width="0.7"/>
<text x="427.2" y="179.98">Subject 3</text>
<line x1="418.3" y1="191.07" x2="426.6" y2="191.07" stroke="#FFC000" stroke-width="1.0" stroke-opacity="0.78"/>
<circle cx="422.4" cy="191.07" r="1.3" fill="#fff" stroke="#FFC000" stroke-width="0.7"/>
<text x="427.2" y="194.17">Subject 4</text>
<line x1="418.3" y1="205.26" x2="426.6" y2="205.26" stroke="#5B9BD5" stroke-width="1.0" stroke-opacity="0.78"/>
<circle cx="422.4" cy="205.26" r="1.3" fill="#fff" stroke="#5B9BD5" stroke-width="0.7"/>
<text x="427.2" y="208.36">Subject 5</text>
<line x1="418.3" y1="219.45" x2="426.6" y2="219.45" stroke="#70AD47" stroke-width="1.0" stroke-opacity="0.78"/>
<circle cx="422.4" cy="219.45" r="1.3" fill="#fff" stroke="#70AD47" stroke-width="0.7"/>
<text x="427.2" y="222.55">Subject 6</text>
<line x1="418.3" y1="233.64" x2="426.6" y2="233.64" stroke="#264478" stroke-width="1.0" stroke-opacity="0.78"/>
<circle cx="422.4" cy="233.64" r="1.3" fill="#fff" stroke="#264478" stroke-width="0.7"/>
<text x="427.2" y="236.74">Subject 7</text>
<line x1="418.3" y1="247.83" x2="426.6" y2="247.83" stroke="#9E480E" stroke-width="1.0" stroke-opacity="0.78"/>
<circle cx="422.4" cy="247.83" r="1.3" fill="#fff" stroke="#9E480E" stroke-width="0.7"/>
<text x="427.2" y="250.93">Subject 8</text>
<line x1="418.3" y1="262.02" x2="426.6" y2="262.02" stroke="#7a7a7a" stroke-width="1.0" stroke-opacity="0.78"/>
<circle cx="422.4" cy="262.02" r="1.3" fill="#fff" stroke="#7a7a7a" stroke-width="0.7"/>
<text x="427.2" y="265.12">Subject 9</text>
<line x1="418.3" y1="276.21" x2="426.6" y2="276.21" stroke="#997300" stroke-width="1.0" stroke-opacity="0.78"/>
<circle cx="422.4" cy="276.21" r="1.3" fill="#fff" stroke="#997300" stroke-width="0.7"/>
<text x="427.2" y="279.31">Subject 10</text>
<line x1="418.3" y1="290.40" x2="426.6" y2="290.40" stroke="#255E91" stroke-width="1.0" stroke-opacity="0.78"/>
<circle cx="422.4" cy="290.40" r="1.3" fill="#fff" stroke="#255E91" stroke-width="0.7"/>
<text x="427.2" y="293.50">Subject 11</text>
<line x1="418.3" y1="304.59" x2="426.6" y2="304.59" stroke="#43682B" stroke-width="1.0" stroke-opacity="0.78"/>
<circle cx="422.4" cy="304.59" r="1.3" fill="#fff" stroke="#43682B" stroke-width="0.7"/>
<text x="427.2" y="307.69">Subject 12</text>
<line x1="418.3" y1="318.78" x2="426.6" y2="318.78" stroke="#698ED0" stroke-width="1.0" stroke-opacity="0.78"/>
<circle cx="422.4" cy="318.78" r="1.3" fill="#fff" stroke="#698ED0" stroke-width="0.7"/>
<text x="427.2" y="321.88">Subject 13</text>
<line x1="418.3" y1="332.97" x2="426.6" y2="332.97" stroke="#F1975A" stroke-width="1.0" stroke-opacity="0.78"/>
<circle cx="422.4" cy="332.97" r="1.3" fill="#fff" stroke="#F1975A" stroke-width="0.7"/>
<text x="427.2" y="336.07">Subject 14</text>
<line x1="418.3" y1="347.16" x2="426.6" y2="347.16" stroke="#B7B7B7" stroke-width="1.0" stroke-opacity="0.78"/>
<circle cx="422.4" cy="347.16" r="1.3" fill="#fff" stroke="#B7B7B7" stroke-width="0.7"/>
<text x="427.2" y="350.26">Subject 15</text>
<line x1="418.3" y1="361.35" x2="426.6" y2="361.35" stroke="#FFCD33" stroke-width="1.0" stroke-opacity="0.78"/>
<circle cx="422.4" cy="361.35" r="1.3" fill="#fff" stroke="#FFCD33" stroke-width="0.7"/>
<text x="427.2" y="364.45">Subject 16</text>
<line x1="418.3" y1="375.54" x2="426.6" y2="375.54" stroke="#7CAFDD" stroke-width="1.0" stroke-opacity="0.78"/>
<circle cx="422.4" cy="375.54" r="1.3" fill="#fff" stroke="#7CAFDD" stroke-width="0.7"/>
<text x="427.2" y="378.64">Subject 17</text>
<line x1="418.3" y1="389.73" x2="426.6" y2="389.73" stroke="#8CC168" stroke-width="1.0" stroke-opacity="0.78"/>
<circle cx="422.4" cy="389.73" r="1.3" fill="#fff" stroke="#8CC168" stroke-width="0.7"/>
<text x="427.2" y="392.83">Subject 18</text>
<line x1="418.3" y1="403.92" x2="426.6" y2="403.92" stroke="#335AA1" stroke-width="1.0" stroke-opacity="0.78"/>
<circle cx="422.4" cy="403.92" r="1.3" fill="#fff" stroke="#335AA1" stroke-width="0.7"/>
<text x="427.2" y="407.02">Subject 19</text>
</svg>
</body></html>
